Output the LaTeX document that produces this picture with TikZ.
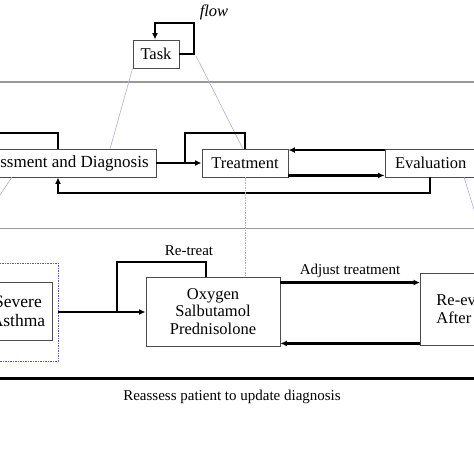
\documentclass[tikz,border=0pt]{standalone}
\usepackage{fontspec}
\setmainfont{Liberation Serif}
\usetikzlibrary{arrows.meta}
\begin{document}
\begin{tikzpicture}[x=1pt,y=-1pt,
  box/.style={draw=black!70,line width=0.9pt,fill=white,inner sep=0pt,font=\fontsize{16.5}{18}\selectfont,align=center},
  conn/.style={line width=2.3pt,line cap=butt},
  arr/.style={-{Latex[length=6.5pt,width=6pt]}},
  lbl/.style={font=\fontsize{15}{17}\selectfont,inner sep=0pt},
  zoomline/.style={draw=blue!25!gray!50,line width=0.6pt},
  level/.style={draw=black!40,line width=1.3pt}]
\useasboundingbox (0,0) rectangle (474,474);
\clip (0,0) rectangle (474,474);
% level separators
\draw[level] (0,82) -- (474,82);
\draw[level,line width=1pt] (0,228) -- (474,228);
\draw[line width=3pt] (0,378) -- (474,378);
% top level
\node[box,minimum width=46,minimum height=28] (task) at (156,54) {Task};
\coordinate (f1) at (194,23);
\draw[conn,arr] (task.east) -| (f1) -| ([xshift=-1pt]task.north);
\node[lbl,font=\fontsize{16.5}{18}\selectfont\itshape] (flowlbl) at (214,12) {flow};
% middle level
\node[box,minimum width=196,minimum height=28,font=\fontsize{17}{18}\selectfont] (assess) at (58,163) {Assessment and Diagnosis};
\node[box,minimum width=86,minimum height=28] (treat) at (245,163) {Treatment};
\node[box,minimum width=100,minimum height=28,text width=90,align=left,inner xsep=0pt] (eval) at (435,163) {\hspace*{5pt}Evaluation};
% zoom lines
\coordinate (z1) at (110,149);
\coordinate (z2) at (196,56);
\coordinate (z3) at (243,149);
\draw[zoomline] (task.south west) -- (z1);
\draw[zoomline] (z2) -- (z3);
\coordinate (z4) at (12,177);
\coordinate (z5) at (-8,207);
\draw[zoomline] (z4) -- (z5);
\coordinate (z6) at (464,177);
\coordinate (z7) at (476,216);
\draw[zoomline] (z6) -- (z7);
% middle connectors
\coordinate (a0) at (-20,133);
\draw[conn] (a0) -| (assess.north);
\draw[conn,arr] (assess.east) -- (treat.west);
\coordinate (t1) at (185,163);
\coordinate (t2) at (185,133);
\draw[conn] (t1) -- (t2) -| (treat.north);
\draw[conn,arr] ([yshift=-1.5pt]eval.north west) -- ([yshift=-1.5pt]treat.north east);
\draw[conn,arr] ([yshift=2pt]treat.south east) -- ([yshift=2pt]eval.south west);
\coordinate (fb) at (430,193);
\draw[conn,arr] (eval.south -| fb) -- (fb) -| (assess.south);
% lower level
\node[draw=blue!30!gray,dash pattern=on 1.5pt off 1pt,line width=0.9pt,minimum width=78,minimum height=98,inner sep=0pt] (dbox) at (19,312) {};
\node[box,minimum width=68,minimum height=58,font=\fontsize{17.5}{19}\selectfont] (severe) at (18,311) {Severe\\Asthma};
\node[box,minimum width=134,minimum height=69,font=\fontsize{16.5}{17.5}\selectfont] (oxy) at (213,311.5) {Oxygen\\Salbutamol\\Prednisolone};
\node[box,minimum width=90,minimum height=72,anchor=west,align=left,inner xsep=16pt] (reev) at (420,309) {Re-evaluate\\After};
\draw[zoomline,dash pattern=on 1.5pt off 1pt] (treat.south) -- (oxy.north -| treat.south);
\draw[conn,arr] (dbox.east) -- (dbox.east -| oxy.west);
\coordinate (r1) at (117,312);
\coordinate (r2) at (117,262);
\draw[conn] (r1) -- (r2) -| ([xshift=-7pt]oxy.north);
\node[lbl] (retreat) at (189,251) {Re-treat};
\draw[conn,arr] ([yshift=-6pt]oxy.north east) -- ([yshift=-6pt]oxy.north east -| reev.west);
\node[lbl] (adjust) at (350,271) {Adjust treatment};
\draw[conn,arr] ([yshift=2pt]reev.south west) -- ([yshift=2pt]reev.south west -| oxy.east);
% bottom label
\node[lbl] (reassess) at (232,397) {Reassess patient to update diagnosis};
\end{tikzpicture}
\end{document}
